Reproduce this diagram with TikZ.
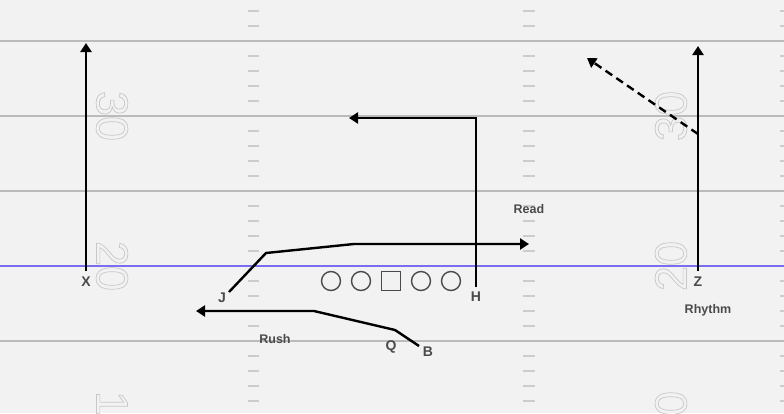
\documentclass[tikz,border=0pt]{standalone}
\usepackage{fontspec}
\setmainfont{Liberation Sans}
\usetikzlibrary{arrows.meta}
\definecolor{bgc}{HTML}{F2F2F2}
\definecolor{yardc}{HTML}{BBBBBB}
\definecolor{hashc}{HTML}{CCCCCC}
\definecolor{losc}{HTML}{7B6CF0}
\definecolor{numc}{HTML}{C8C8C8}
\definecolor{lblc}{HTML}{4A4A4A}
\newcommand{\outlnum}[1]{\special{pdf:literal 1 Tr 0.7 w 0.78 0.78 0.78 RG}#1\special{pdf:literal 0 Tr}}
\tikzset{
  yard/.style={draw=yardc,line width=1.8pt},
  los/.style={draw=losc,line width=2.5pt},
  hashm/.style={draw=hashc,line width=1.6pt},
  yardnum/.style={inner sep=0pt,font=\fontsize{45}{45}\selectfont},
  lbl/.style={text=lblc,font=\bfseries\fontsize{14}{14}\selectfont,inner sep=0pt},
  note/.style={text=lblc,font=\bfseries\fontsize{12.5}{12.5}\selectfont,inner sep=0pt},
  route/.style={draw=black,line width=2.4pt,-{Triangle[length=9pt,width=11pt]}},
  lineman/.style={draw=lblc,line width=1.4pt,minimum size=19pt,inner sep=0pt},
}
\begin{document}
\begin{tikzpicture}[x=1pt,y=-1pt]
\fill[bgc] (0,0) rectangle (784,413);
\useasboundingbox (0,0) rectangle (784,413);
% hash marks
\foreach \k in {0,...,26}{
  \pgfmathtruncatemacro{\r}{mod(\k,5)}
  \ifnum\r=2\relax\else
    \pgfmathsetmacro{\yy}{11+15*\k}
    \draw[hashm] (248,\yy) -- (259,\yy);
    \draw[hashm] (523,\yy) -- (535,\yy);
    \draw[hashm] (780,\yy) -- (784,\yy);
  \fi
}
% yard lines
\foreach \yy in {41,116,191,341}{\draw[yard] (0,\yy) -- (784,\yy);}
\draw[los] (0,266) -- (784,266);
% yard numbers
\node[yardnum,rotate=-90] (n30l) at (112,116) {\outlnum{30}};
\node[yardnum,rotate=-90] (n20l) at (112,266) {\outlnum{20}};
\node[yardnum,rotate=-90] (n10l) at (112,416) {\outlnum{10}};
\node[yardnum,rotate=90] (n30r) at (671,116) {\outlnum{30}};
\node[yardnum,rotate=90] (n20r) at (671,266) {\outlnum{20}};
\node[yardnum,rotate=90] (n10r) at (671,416) {\outlnum{10}};
% line
\node[lineman,circle] (lt) at (331,281) {};
\node[lineman,circle] (lg) at (361,281) {};
\node[lineman,rectangle] (c) at (391,281) {};
\node[lineman,circle] (rg) at (421,281) {};
\node[lineman,circle] (rt) at (451,281) {};
% labels
\node[lbl] (X) at (86,282) {X};
\node[lbl] (Z) at (698,282) {Z};
\node[lbl] (H) at (476,297) {H};
\node[lbl] (J) at (222,298) {J};
\node[lbl] (Q) at (391,347) {Q};
\node[lbl] (B) at (428,352) {B};
\node[note] (rush) at (275,339) {Rush};
\node[note] (read) at (529,209) {Read};
\node[note] (rhythm) at (708,310) {Rhythm};
% route points
\coordinate (Xs) at (86,271); \coordinate (Xe) at (86,43);
\coordinate (Zs) at (698,271); \coordinate (Ze) at (698,46);
\coordinate (Zd) at (698,134); \coordinate (Zde) at (587,58);
\coordinate (Hs) at (476,287); \coordinate (Hc) at (476,118); \coordinate (He) at (349,118);
\coordinate (Js) at (229,292); \coordinate (J1) at (266,253); \coordinate (J2) at (354,244); \coordinate (Je) at (529,244);
\coordinate (Bs) at (419,346); \coordinate (B1) at (395,330); \coordinate (B2) at (314,311); \coordinate (Be) at (196,311);
% routes
\draw[route] (Xs) -- (Xe);
\draw[route] (Zs) -- (Ze);
\draw[route,dash pattern=on 8pt off 5pt] (Zd) -- (Zde);
\draw[route] (Hs) -- (Hc) -- (He);
\draw[route] (Js) -- (J1) -- (J2) -- (Je);
\draw[route] (Bs) -- (B1) -- (B2) -- (Be);
\end{tikzpicture}
\end{document}
